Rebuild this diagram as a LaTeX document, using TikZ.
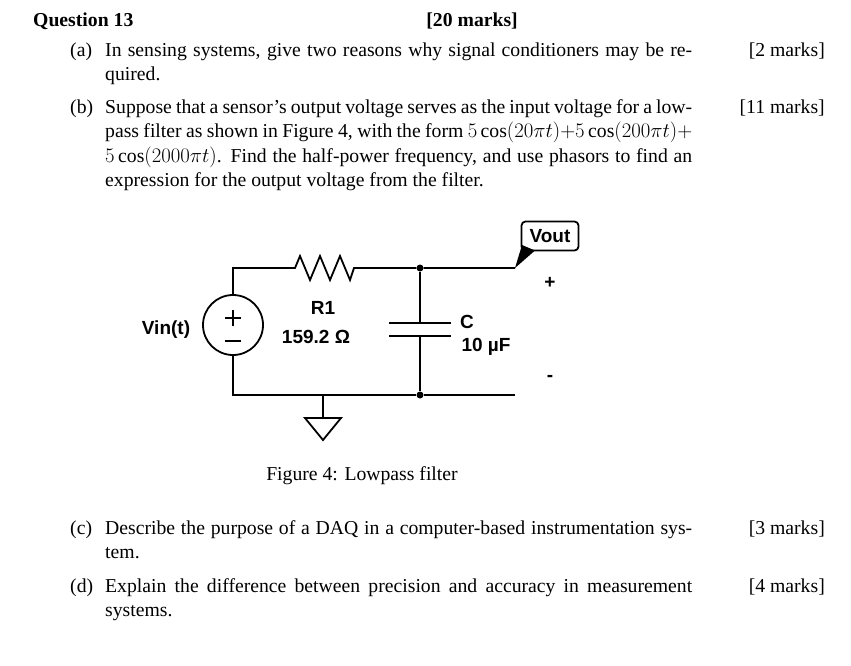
\documentclass[tikz,border=0pt]{standalone}
\usepackage{fontspec}
\setmainfont{Liberation Serif}
\newfontfamily\sansf{Liberation Sans}
\begin{document}
\begin{tikzpicture}[x=1pt,y=-1pt,
  txt/.style={anchor=base west,inner sep=0pt,font=\fontsize{19.7}{24.6}\selectfont},
  par/.style={txt,text width=587pt,align=justify},
  mk/.style={anchor=base east,inner sep=0pt,font=\fontsize{19.7}{24.6}\selectfont},
  lab/.style={inner sep=0pt,font=\sansf\bfseries\fontsize{19}{21}\selectfont},
  w/.style={line width=1.8pt},
  dot/.style={circle,fill=black,inner sep=0pt,minimum size=7pt}]
\useasboundingbox (0,0) rectangle (851,665);
\node[txt,font=\bfseries\fontsize{19.7}{24.6}\selectfont] (q) at (33,26) {Question 13};
\node[mk,font=\bfseries\fontsize{19.7}{24.6}\selectfont] (qm) at (518,26) {[20 marks]};
\node[txt] (la) at (70,56) {(a)};
\node[par] (pa) at (105,56) {In sensing systems, give two reasons why signal conditioners may be re-\linebreak quired.};
\node[mk] (ma) at (825,56) {[2 marks]};
\node[txt] (lb) at (70,113) {(b)};
\node[par] (pb) at (105,113) {Suppose that a sensor's output voltage serves as the input voltage for a low-\linebreak pass filter as shown in Figure 4, with the form $5\cos(20\pi t){+}5\cos(200\pi t){+}$\linebreak $5\cos(2000\pi t)$. Find the half-power frequency, and use phasors to find an\linebreak expression for the output voltage from the filter.};
\node[mk] (mb) at (825,113) {[11 marks]};
\node[txt] (lc) at (70,534) {(c)};
\node[par] (pc) at (105,534) {Describe the purpose of a DAQ in a computer-based instrumentation sys-\linebreak tem.};
\node[mk] (mc) at (825,534) {[3 marks]};
\node[txt] (ld) at (70,592) {(d)};
\node[par] (pd) at (105,592) {Explain the difference between precision and accuracy in measurement\linebreak systems.};
\node[mk] (md) at (825,592) {[4 marks]};
\node[anchor=base,inner sep=0pt,font=\fontsize{19.7}{24.6}\selectfont] (cap) at (362,480) {Figure 4: Lowpass filter};
% circuit
\coordinate (tl) at (233,268); \coordinate (r0) at (295,268); \coordinate (r1) at (358,268);
\node[dot] (nt) at (420,268) {}; \coordinate (tr) at (515,268);
\coordinate (bl) at (233,395); \node[dot] (nb) at (420,395) {}; \coordinate (br) at (515,395);
\coordinate (g) at (323,395); \coordinate (g1) at (323,418);
\node[circle,draw,w,minimum size=60pt,inner sep=0pt] (src) at (233,325) {};
\draw[w] (src.north) -- (tl) -- (r0) -- ++(5,-12) -- ++(10,24) -- ++(10,-24) -- ++(10,24) -- ++(10,-24) -- ++(10,24) -- ++(4,-12) -- (r1) -- (nt) -- (tr);
\draw[w] (src.south) -- (bl) -- (nb) -- (br);
\draw[w] (g) -- (g1); \draw[w] (305,418) -- (341,418) -- (323,440) -- cycle;
\coordinate (p1) at (420,323); \coordinate (p2) at (420,336);
\draw[w] (nt) -- (p1); \draw[w] (p2) -- (nb);
\draw[w] (389,323) -- (451,323); \draw[w] (389,336) -- (451,336);
\draw[line width=1.5pt] (225,318) -- (241,318) (233,310) -- (233,326);
\draw[line width=1.5pt] (225,341) -- (241,341);
\node[lab,draw,w,rounded corners=4pt,inner sep=3pt,minimum width=57pt,minimum height=29pt] (vout) at (550,236) {Vout};
\fill (522,245) -- (535,250.5) -- (tr) -- cycle;
\node[lab] (plus) at (550,283) {+};
\node[lab] (minus) at (550,378) {-};
\node[lab] (r1l) at (323,308) {R1};
\node[lab] (rv) at (316,337) {159.2 Ω};
\node[lab] (cl) at (467,322) {C};
\node[lab] (cv) at (486,347) {10 µF};
\node[lab] (vin) at (166,330) {Vin(t)};
\end{tikzpicture}
\end{document}
